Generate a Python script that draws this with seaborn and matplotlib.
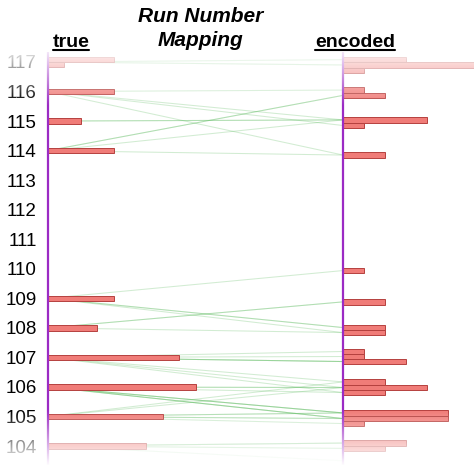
import numpy as np
import pandas as pd
import matplotlib
matplotlib.use("Agg")
import matplotlib.pyplot as plt
from matplotlib.lines import Line2D
import seaborn as sns

# histogram of true run numbers (bin centre, count)
true_bins = [117.08, 116.92, 116, 115, 114, 109, 108, 107, 106, 105, 104]
true_counts = [4, 1, 4, 2, 4, 4, 3, 8, 9, 7, 6]

# histogram of encoded values
enc_bins = [117.08, 116.9, 116.71, 116.05, 115.87, 115.04, 114.85, 113.85,
            109.94, 108.88, 108.01, 107.84, 107.2, 107.03, 106.86,
            106.17, 105.98, 105.81, 105.12, 104.93, 104.76, 104.1, 103.92]
enc_counts = [3, 7, 1, 1, 2, 4, 1, 2, 1, 2, 2, 2, 1, 1, 3, 2, 4, 2, 5, 5, 1, 3, 2]

# mapping true -> encoded
link_true = [117, 117, 117, 117,
             116, 116, 116, 116,
             115, 115,
             114, 114, 114, 114,
             109, 109, 109, 109,
             108, 108, 108,
             107, 107, 107, 107, 107, 107, 107, 107,
             106, 106, 106, 106, 106, 106, 106, 106, 106,
             105, 105, 105, 105, 105, 105, 105,
             104, 104, 104, 104, 104, 104]
link_enc = [117.08, 117.08, 116.9, 116.9,
            116.05, 115.04, 114.85, 113.85,
            115.04, 115.04,
            115.87, 115.87, 115.04, 113.85,
            109.94, 108.01, 108.01, 107.84,
            108.88, 108.88, 107.84,
            107.2, 107.03, 106.86, 106.86, 106.86, 106.17, 105.98, 105.81,
            105.98, 105.98, 105.81, 105.12, 105.12, 105.12, 104.93, 104.93, 104.93,
            106.17, 105.98, 105.12, 105.12, 104.93, 104.93, 104.76,
            104.1, 104.1, 104.1, 103.92, 103.92, 103.5]

ticks = list(range(104, 118))

sns.set_theme(style="white")
plt.rcParams["font.family"] = ["Liberation Sans", "DejaVu Sans"]

W = H = 474
fig = plt.figure(figsize=(4.74, 4.74), dpi=100)

# axes: true axis at x=0 (48px), encoded axis at x=1 (343px)
px = 295.0
x_left, x_right = 45, 474
y_top, y_bot = 52, 470
ax = fig.add_axes([x_left / W, (H - y_bot) / H, (x_right - x_left) / W, (y_bot - y_top) / H])
ax.set_xlim((x_left - 48) / px, (x_right - 48) / px)
py = 29.54
ax.set_ylim(117 - (y_bot - 62) / py, 117 - (y_top - 62) / py)

links = pd.DataFrame({
    "link": np.repeat(np.arange(len(link_true)), 2),
    "side": np.tile([0.0, 1.0], len(link_true)),
    "value": np.ravel(np.column_stack([link_true, link_enc])),
})
sns.lineplot(data=links, x="side", y="value", units="link", estimator=None,
             sort=False, color="#5dbb5f", alpha=0.28, lw=0.75, ax=ax,
             legend=False, zorder=2)

bar_kw = dict(height=0.185, color="#f07c78", edgecolor="#b5413f", linewidth=0.7, zorder=3)
ax.barh(true_bins, np.array(true_counts) * 16.4 / px, left=0, **bar_kw)
ax.barh(enc_bins, np.array(enc_counts) * 21.0 / px, left=1, **bar_kw)

ax.axvline(0, color="#9b2bc4", lw=1.6, zorder=4)
ax.axvline(1, color="#9b2bc4", lw=1.6, zorder=4)

ax.set_yticks(ticks)
ax.set_yticklabels([str(t) for t in ticks], fontsize=13.5, color="black")
ax.tick_params(axis="y", length=0, pad=6)
ax.set_xticks([])
ax.set_xlabel("")
ax.set_ylabel("")
for s in ax.spines.values():
    s.set_visible(False)
ax.patch.set_alpha(0)

# titles
fig.text(201 / W, 1 - 22 / H, "Run Number", ha="center", va="baseline",
         fontsize=15, fontweight="bold", fontstyle="italic", color="black")
fig.text(201 / W, 1 - 46 / H, "Mapping", ha="center", va="baseline",
         fontsize=15, fontweight="bold", fontstyle="italic", color="black")
t1 = fig.text(71 / W, 1 - 47 / H, "true", ha="center", va="baseline",
              fontsize=14, fontweight="bold", color="black")
t2 = fig.text(355 / W, 1 - 47 / H, "encoded", ha="center", va="baseline",
              fontsize=14, fontweight="bold", color="black")

renderer = fig.canvas.get_renderer()
for t in (t1, t2):
    bb = t.get_window_extent(renderer)
    fig.add_artist(Line2D([bb.x0 / W, bb.x1 / W], [1 - 50 / H, 1 - 50 / H],
                          transform=fig.transFigure, color="black", lw=1.5))

# white fade at top and bottom
rows = np.arange(H)
alpha = np.zeros(H)
top = (rows >= 52) & (rows < 105)
alpha[top] = np.clip((105 - rows[top]) / 60.0, 0, 1)
bot = rows > 410
alpha[bot] = np.clip((rows[bot] - 410) / 55.0, 0, 1)
img = np.ones((H, 1, 4))
img[:, 0, 3] = alpha
ov = fig.add_axes([0, 0, 1, 1], zorder=10)
ov.imshow(img, extent=[0, 1, 0, 1], aspect="auto", interpolation="bilinear")
ov.set_axis_off()

fig.savefig("out.png", dpi=100)
